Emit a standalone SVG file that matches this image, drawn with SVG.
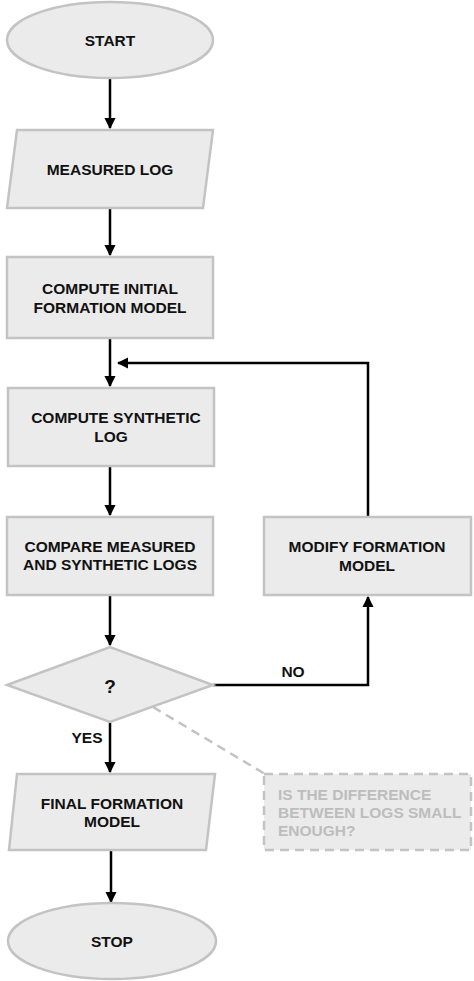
<svg xmlns="http://www.w3.org/2000/svg" width="474" height="981" viewBox="0 0 474 981">
<style>
.n{fill:#ebebeb;stroke:#c3c3c3;stroke-width:2.5}
.t{font-family:"Liberation Sans",Arial,sans-serif;font-weight:bold;font-size:15.5px;fill:#111;text-anchor:middle}
.g{font-family:"Liberation Sans",Arial,sans-serif;font-weight:bold;font-size:15.5px;fill:#bdbdbd}
.c{fill:none;stroke:#000;stroke-width:2.5}
</style>
<defs>
<marker id="a" viewBox="0 0 10 10" refX="9" refY="5" markerWidth="4.6" markerHeight="4.6" orient="auto" markerUnits="strokeWidth">
<path d="M0,0L10,5L0,10z" fill="#000"/>
</marker>
</defs>
<rect width="474" height="981" fill="#fff"/>
<g id="connectors">
<path class="c" d="M110,78V128" marker-end="url(#a)"/>
<path class="c" d="M110,208V255" marker-end="url(#a)"/>
<path class="c" d="M110,338V386" marker-end="url(#a)"/>
<path class="c" d="M368,517V363H118" marker-end="url(#a)"/>
<path class="c" d="M110,466V515" marker-end="url(#a)"/>
<path class="c" d="M110,595V645" marker-end="url(#a)"/>
<path class="c" d="M213,685H368V597" marker-end="url(#a)"/>
<path class="c" d="M110,722V772" marker-end="url(#a)"/>
<path class="c" d="M111,850V902" marker-end="url(#a)"/>
<path d="M153,707L265,774" fill="none" stroke="#c3c3c3" stroke-width="2.5" stroke-dasharray="9,6"/>
<text class="t" x="293" y="677">NO</text>
<text class="t" x="87" y="743">YES</text>
</g>
<g id="start">
<ellipse class="n" cx="110" cy="40" rx="103" ry="38"/>
<text class="t" x="110" y="46">START</text>
</g>
<g id="measured">
<path class="n" d="M17,130H213L203,208H7Z"/>
<text class="t" x="110" y="175">MEASURED LOG</text>
</g>
<g id="initial">
<rect class="n" x="7" y="257" width="206" height="81"/>
<text class="t" x="110" y="294">COMPUTE INITIAL</text>
<text class="t" x="110" y="313">FORMATION MODEL</text>
</g>
<g id="synthetic">
<rect class="n" x="8" y="388" width="206" height="78"/>
<text class="t" x="116" y="423">COMPUTE SYNTHETIC</text>
<text class="t" x="111" y="442">LOG</text>
</g>
<g id="compare">
<rect class="n" x="7" y="517" width="206" height="78"/>
<text class="t" x="110" y="552">COMPARE MEASURED</text>
<text class="t" x="110" y="570">AND SYNTHETIC LOGS</text>
</g>
<g id="modify">
<rect class="n" x="264" y="517" width="207" height="78"/>
<text class="t" x="367" y="552">MODIFY FORMATION</text>
<text class="t" x="367" y="571">MODEL</text>
</g>
<g id="decision">
<path class="n" d="M7,685L110,647L213,685L110,722Z"/>
<text class="t" x="110" y="693" style="font-size:19px">?</text>
</g>
<g id="final">
<path class="n" d="M17,774H215L206,850H9Z"/>
<text class="t" x="112" y="809">FINAL FORMATION</text>
<text class="t" x="112" y="827">MODEL</text>
</g>
<g id="stop">
<ellipse class="n" cx="112" cy="941" rx="104" ry="38"/>
<text class="t" x="112" y="947">STOP</text>
</g>
<g id="note">
<rect x="264" y="774" width="207" height="76" fill="#ebebeb" stroke="#c3c3c3" stroke-width="2.5" stroke-dasharray="9,6"/>
<text class="g" x="278" y="800">IS THE DIFFERENCE</text>
<text class="g" x="278" y="818">BETWEEN LOGS SMALL</text>
<text class="g" x="278" y="836">ENOUGH?</text>
</g>
</svg>
